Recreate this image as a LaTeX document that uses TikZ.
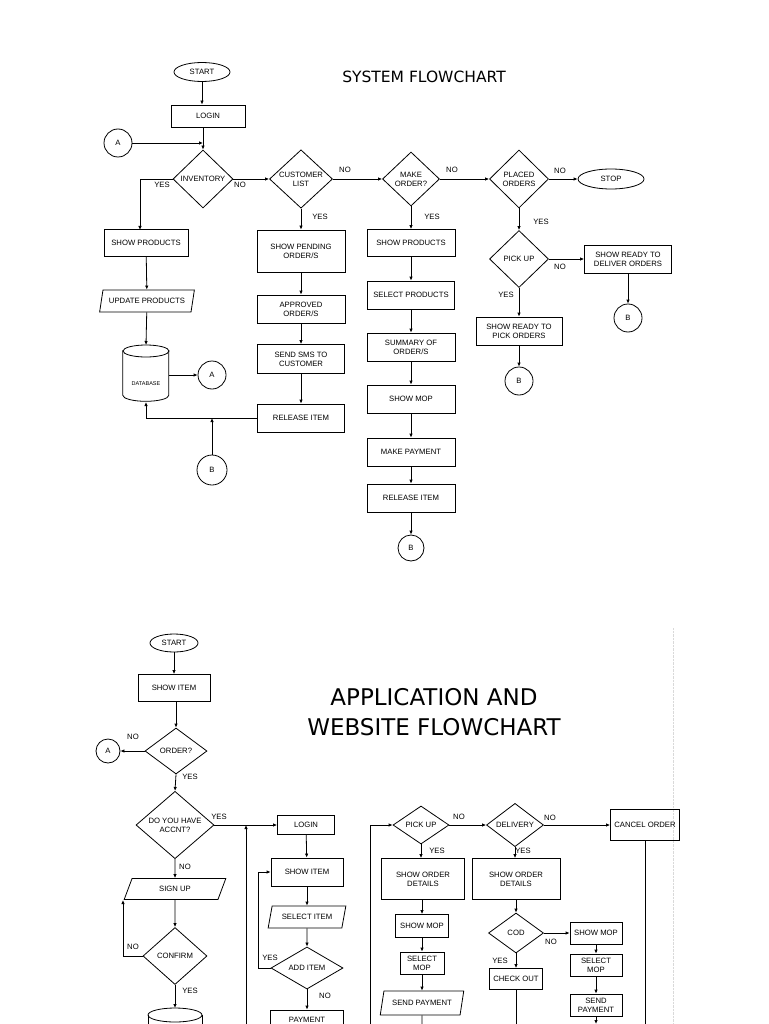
\documentclass[tikz,border=0pt]{standalone}
\usepackage{fontspec}
\setmainfont{Liberation Sans}
\newfontfamily\titlefont{DejaVu Sans}
\usetikzlibrary{shapes.geometric,arrows.meta}
\begin{document}
\begin{tikzpicture}[x=1pt,y=-1pt,
  every node/.style={font=\fontsize{7.7}{9}\selectfont,align=center,inner sep=1pt},
  box/.style={draw,thick,minimum width=#1pt,minimum height=27pt,inner sep=1pt},
  box/.default=88,
  dia/.style 2 args={draw,diamond,thick,minimum width=#1pt,minimum height=#2pt,inner sep=0pt},
  io/.style={draw,thick,trapezium,trapezium left angle=62,trapezium right angle=118,trapezium stretches=true,minimum width=#1pt,minimum height=22pt,inner sep=0pt},
  term/.style={draw,ellipse,thick,minimum width=#1pt,minimum height=19pt,inner sep=0pt},
  con/.style={draw,circle,thick,minimum size=#1pt,inner sep=0pt},
  con/.default=28,
  lab/.style={font=\fontsize{7.7}{9}\selectfont},
  ar/.style={-{Latex[length=4pt,width=3.5pt]},thick},
  ln/.style={thick}]
\useasboundingbox (0,0) rectangle (768,1024);
\clip (0,0) rectangle (768,1024);
% ===== SYSTEM FLOWCHART =====
\node[font=\titlefont\fontsize{15.5}{18}\selectfont] (t1) at (424,77) {SYSTEM FLOWCHART};
\node[term=56] (start) at (202,72) {START};
\node[box=74,minimum height=22pt] (login) at (208,116) {LOGIN};
\node[con] (a1) at (118,143) {A};
\node[dia={60}{58}] (inv) at (203,179) {INVENTORY};
\coordinate (ja) at (203,143);
\draw[ar] (start) -- (start|-login.north);
\draw[ar] (login.south-|ja) -- (inv.north);
\draw[ar] (a1) -- (ja);
\node[box=84] (sp1) at (146,243) {SHOW PRODUCTS};
\node[io=95] (up) at (147,301) {UPDATE PRODUCTS};
% database cylinder
\node[minimum width=46pt,minimum height=57pt,inner sep=0pt] (db1) at (146,373) {};
\draw[thick] (db1.north west) ++(0,6) -- ++(0,45) arc[start angle=180,end angle=360,x radius=23,y radius=-6] -- ++(0,-45);
\draw[thick] (146,351) ellipse[x radius=23,y radius=6];
\node[font=\fontsize{5.5}{6}\selectfont] at (146,384) {DATABASE};
\node[con] (a2) at (212,375) {A};
\draw[ar] (up) -- (146,345);
\draw[ar] (db1.east|-a2) -- (a2);
\draw[ar] (inv.west) -- (140,179) -- (140,230);
\draw[ar] (sp1) -- (up);
\node[lab] at (162,185) {YES};
\node[lab] at (240,185) {NO};
\node[dia={63}{58}] (cl) at (301,179) {CUSTOMER\\LIST};
\draw[ar] (inv.east) -- (cl.west);
\node[box=88,minimum height=42pt] (spo) at (301,251) {SHOW PENDING\\ORDER/S};
\node[box=88,minimum height=28pt] (apo) at (301,309) {APPROVED\\ORDER/S};
\node[box=87,minimum height=29pt] (sms) at (301,359) {SEND SMS TO\\CUSTOMER};
\node[box=87,minimum height=28pt] (rel1) at (301,418) {RELEASE ITEM};
\node[con=30] (b1) at (212,470) {B};
\draw[ar] (cl.south) -- (spo.north);
\draw[ar] (spo) -- (apo);
\draw[ar] (apo) -- (sms);
\draw[ar] (sms) -- (rel1);
\draw[ar] (rel1.west) -- (146,418) -- (146,402);
\draw[ar] (b1) -- (212,418);
\node[lab] at (320,217) {YES};
\node[lab] at (345,170) {NO};
\node[dia={57}{54}] (mo) at (411,179) {MAKE\\ORDER?};
\draw[ar] (cl.east) -- (mo.west);
\node[box=88] (sp2) at (411,243) {SHOW PRODUCTS};
\node[box=87,minimum height=28pt] (selp) at (411,295) {SELECT PRODUCTS};
\node[box=88,minimum height=28pt] (sum) at (411,347) {SUMMARY OF\\ORDER/S};
\node[box=88,minimum height=28pt] (mop1) at (411,399) {SHOW MOP};
\node[box=88,minimum height=28pt] (mp) at (411,452) {MAKE PAYMENT};
\node[box=88,minimum height=28pt] (rel2) at (411,498) {RELEASE ITEM};
\node[con=26] (b2) at (411,548) {B};
\draw[ar] (mo.south) -- (sp2.north);
\draw[ar] (sp2) -- (selp);
\draw[ar] (selp) -- (sum);
\draw[ar] (sum) -- (mop1);
\draw[ar] (mop1) -- (mp);
\draw[ar] (mp) -- (rel2);
\draw[ar] (rel2) -- (b2);
\node[lab] at (432,217) {YES};
\node[lab] at (452,170) {NO};
\node[dia={59}{58}] (po) at (519,179) {PLACED\\ORDERS};
\draw[ar] (mo.east) -- (po.west);
\node[term=66,minimum height=20pt] (stop) at (611,179) {STOP};
\draw[ar] (po.east) -- (stop.west);
\node[lab] at (560,171) {NO};
\node[dia={59}{57}] (pu) at (519,259) {PICK UP};
\draw[ar] (po.south) -- (pu.north);
\node[lab] at (541,222) {YES};
\node[box=87,minimum height=28pt] (srd) at (628,259) {SHOW READY TO\\DELIVER ORDERS};
\draw[ar] (pu.east) -- (srd.west);
\node[lab] at (560,267) {NO};
\node[con] (b3) at (628,318) {B};
\draw[ar] (srd) -- (b3);
\node[box=86,minimum height=28pt] (srp) at (519,331) {SHOW READY TO\\PICK ORDERS};
\draw[ar] (pu.south) -- (srp.north);
\node[lab] at (506,295) {YES};
\node[con] (b4) at (519,381) {B};
\draw[ar] (srp) -- (b4);
% ===== APPLICATION AND WEBSITE FLOWCHART =====
\draw[gray!30,densely dotted] (673,628) -- (673,1024);
\node[font=\titlefont\fontsize{23}{30}\selectfont] (t2) at (434,712) {APPLICATION AND\\WEBSITE FLOWCHART};
\node[term=48,minimum height=18pt] (s2) at (174,643) {START};
\node[box=72,minimum height=27pt] (si1) at (174,688) {SHOW ITEM};
\node[dia={62}{46}] (ord) at (176,751) {ORDER?};
\node[con=24] (a3) at (108,751) {A};
\draw[ar] (s2) -- (si1);
\draw[ar] (si1.south-|ord) -- (ord.north);
\draw[ar] (ord.west) -- (a3);
\node[lab] at (133,737) {NO};
\node[lab] at (190,777) {YES};
\node[dia={78}{66}] (acc) at (175,825) {DO YOU HAVE\\ACCNT?};
\draw[ar] (ord.south) -- (acc.north);
\node[lab] at (219,817) {YES};
\node[box=57,minimum height=19pt] (lg2) at (306,825) {LOGIN};
\draw[ar] (acc.east) -- (lg2.west);
\coordinate (j1) at (246,825);
\draw[ar] (246,1024) -- (j1);
\node[io=102,minimum height=21pt] (su) at (175,889) {SIGN UP};
\draw[ar] (acc.south) -- (su.north);
\node[lab] at (185,867) {NO};
\node[dia={64}{57}] (cf) at (175,956) {CONFIRM};
\draw[ar] (su) -- (cf);
\draw[ar] (cf.west) -- (123,956) -- (123,900);
\node[lab] at (133,947) {NO};
\node[lab] at (190,991) {YES};
\coordinate (db2) at (175,1008);
\draw[thick] (148,1015) -- (148,1030) (202,1015) -- (202,1030);
\draw[thick] (175,1015) ellipse[x radius=27,y radius=7];
\draw[ar] (cf.south) -- (db2);
\node[box=72,minimum height=28pt] (si2) at (307,872) {SHOW ITEM};
\draw[ar] (lg2) -- (si2);
\node[io=78,minimum height=22pt] (sel) at (307,917) {SELECT ITEM};
\draw[ar] (si2) -- (sel);
\node[dia={72}{40}] (add) at (307,968) {ADD ITEM};
\draw[ar] (sel.south) -- (add.north);
\draw[ar] (add.west) -- (258,968) -- (258,872) -- (si2.west);
\node[lab] at (270,958) {YES};
\node[lab] at (325,996) {NO};
\node[box=73,minimum height=20pt] (pay) at (307,1020) {PAYMENT};
\draw[ar] (add.south) -- (pay.north);
\node[dia={56}{38}] (pk) at (421,825) {PICK UP};
\draw[ar] (370,1024) -- (370,825) -- (pk.west);
\node[lab] at (459,817) {NO};
\node[dia={57}{38}] (dl) at (515,825) {DELIVERY};
\draw[ar] (pk.east) -- (dl.west);
\node[lab] at (550,818) {NO};
\node[box=69,minimum height=31pt] (co) at (645,825) {CANCEL ORDER};
\draw[ar] (dl.east) -- (co.west);
\draw[ln] (co.south) -- (645,1024);
\node[box=83,minimum height=41pt] (sod1) at (423,879) {SHOW ORDER\\DETAILS};
\draw[ar] (pk.south) -- (pk.south|-sod1.north);
\node[lab] at (437,851) {YES};
\node[box=53,minimum height=23pt] (mop2) at (422,926) {SHOW MOP};
\draw[ar] (sod1.south-|mop2) -- (mop2);
\node[box=44,minimum height=22pt] (sm1) at (422,963) {SELECT\\MOP};
\draw[ar] (mop2) -- (sm1);
\node[io=84,minimum height=24pt] (sp3) at (422,1003) {SEND PAYMENT};
\draw[ar] (sm1) -- (sp3);
\draw[ln] (sp3.south) -- (422,1024);
\node[box=88,minimum height=41pt] (sod2) at (516,879) {SHOW ORDER\\DETAILS};
\draw[ar] (dl.south) -- (dl.south|-sod2.north);
\node[lab] at (523,851) {YES};
\node[dia={55}{40}] (cod) at (516,933) {COD};
\draw[ar] (sod2.south-|cod) -- (cod.north);
\node[box=52,minimum height=22pt] (mop3) at (596,933) {SHOW MOP};
\draw[ar] (cod.east) -- (mop3.west);
\node[lab] at (551,942) {NO};
\node[box=52,minimum height=22pt] (sm2) at (596,965) {SELECT\\MOP};
\draw[ar] (mop3) -- (sm2);
\node[box=52,minimum height=22pt] (sp4) at (596,1005) {SEND\\PAYMENT};
\draw[ar] (sm2) -- (sp4);
\draw[ar] (sp4.south) -- (596,1024);
\node[lab] at (500,961) {YES};
\node[box=53,minimum height=21pt] (chk) at (516,979) {CHECK OUT};
\draw[ar] (cod.south) -- (chk.north);
\draw[ln] (chk.south) -- (516,1024);
\end{tikzpicture}
\end{document}
